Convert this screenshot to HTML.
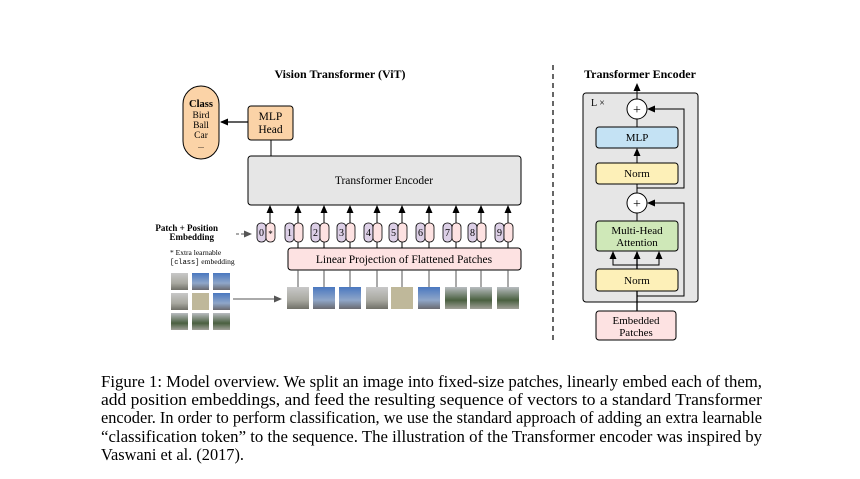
<!DOCTYPE html>
<html><head><meta charset="utf-8"><style>
html,body{margin:0;padding:0;background:#fff;}
svg{display:block;font-family:"Liberation Serif",serif;}
</style></head><body>
<svg width="860" height="479" viewBox="0 0 860 479" xmlns="http://www.w3.org/2000/svg">
<defs>
<marker id="ah" markerWidth="8" markerHeight="8" refX="7" refY="4" orient="auto" markerUnits="userSpaceOnUse"><path d="M0,0.5 L8,4 L0,7.5 z" fill="#000"/></marker>
<marker id="ahg" markerWidth="8" markerHeight="8" refX="7" refY="4" orient="auto" markerUnits="userSpaceOnUse"><path d="M0,0.5 L8,4 L0,7.5 z" fill="#555"/></marker>
<linearGradient id="sky" x1="0" y1="0" x2="0" y2="1"><stop offset="0" stop-color="#4a78c0"/><stop offset="0.6" stop-color="#8fa6c8"/><stop offset="1" stop-color="#6a6a70"/></linearGradient>
<linearGradient id="bld" x1="0" y1="0" x2="0" y2="1"><stop offset="0" stop-color="#c8c8c8"/><stop offset="0.6" stop-color="#a8a8a0"/><stop offset="1" stop-color="#707068"/></linearGradient>
<linearGradient id="grn" x1="0" y1="0" x2="0" y2="1"><stop offset="0" stop-color="#b8bcc0"/><stop offset="0.6" stop-color="#4a6040"/><stop offset="1" stop-color="#a0a098"/></linearGradient>
</defs>

<text x="340" y="78" font-size="12" font-weight="bold" text-anchor="middle">Vision Transformer (ViT)</text>
<text x="640" y="78" font-size="12" font-weight="bold" text-anchor="middle">Transformer Encoder</text>

<line x1="553" y1="65" x2="553" y2="340" stroke="#000" stroke-width="1.2" stroke-dasharray="5,4"/>

<rect x="183" y="86" width="36" height="73" rx="18" fill="#fbd3a7" stroke="#000" stroke-width="1"/>
<text x="201" y="107" font-size="10.5" font-weight="bold" text-anchor="middle">Class</text>
<text x="201" y="118" font-size="9.5" text-anchor="middle">Bird</text>
<text x="201" y="128" font-size="9.5" text-anchor="middle">Ball</text>
<text x="201" y="138" font-size="9.5" text-anchor="middle">Car</text>
<text x="201" y="148" font-size="8" text-anchor="middle">...</text>

<rect x="248" y="106" width="45" height="34" rx="3" fill="#fbd3a7" stroke="#000" stroke-width="1"/>
<text x="270.5" y="120" font-size="11.5" text-anchor="middle">MLP</text>
<text x="270.5" y="133" font-size="11.5" text-anchor="middle">Head</text>
<line x1="248" y1="122" x2="221" y2="122" stroke="#000" stroke-width="1.2" marker-end="url(#ah)"/>
<line x1="271" y1="140" x2="271" y2="156" stroke="#000" stroke-width="1"/>

<rect x="248" y="156" width="273" height="49" rx="3" fill="#e6e6e6" stroke="#000" stroke-width="1"/>
<text x="384" y="184" font-size="11.5" text-anchor="middle">Transformer Encoder</text>

<rect x="288" y="248" width="233" height="22" rx="3" fill="#fde2e2" stroke="#000" stroke-width="1"/>
<text x="404" y="263" font-size="11.5" text-anchor="middle">Linear Projection of Flattened Patches</text>

<text x="218" y="231" font-size="9" font-weight="bold" text-anchor="end">Patch + Position</text>
<text x="214" y="240" font-size="9" font-weight="bold" text-anchor="end">Embedding</text>
<line x1="236" y1="234" x2="251" y2="234" stroke="#555" stroke-width="1" stroke-dasharray="3,2" marker-end="url(#ahg)"/>
<text x="170" y="255" font-size="7.5">* Extra learnable</text>
<text x="170" y="264" font-size="7.5"><tspan font-family="Liberation Mono,monospace" font-size="7">[class]</tspan> embedding</text>

<g stroke="#000" stroke-width="0.8" font-size="10">
<rect x="257" y="223" width="9" height="19" rx="4" fill="#dccfe6"/>
<rect x="266" y="223" width="9" height="19" rx="4" fill="#fde2e2"/>
<text x="261.5" y="236" text-anchor="middle" stroke="none">0</text>
<text x="270.5" y="237" text-anchor="middle" stroke="none" font-size="9">*</text>
</g>
<g stroke="#000" stroke-width="0.8" font-size="10">
<rect x="285" y="223" width="9" height="19" rx="4" fill="#dccfe6"/><rect x="294" y="223" width="9" height="19" rx="4" fill="#fde2e2"/><text x="289.5" y="236" text-anchor="middle" stroke="none">1</text>
<rect x="311" y="223" width="9" height="19" rx="4" fill="#dccfe6"/><rect x="320" y="223" width="9" height="19" rx="4" fill="#fde2e2"/><text x="315.5" y="236" text-anchor="middle" stroke="none">2</text>
<rect x="337" y="223" width="9" height="19" rx="4" fill="#dccfe6"/><rect x="346" y="223" width="9" height="19" rx="4" fill="#fde2e2"/><text x="341.5" y="236" text-anchor="middle" stroke="none">3</text>
<rect x="364" y="223" width="9" height="19" rx="4" fill="#dccfe6"/><rect x="373" y="223" width="9" height="19" rx="4" fill="#fde2e2"/><text x="368.5" y="236" text-anchor="middle" stroke="none">4</text>
<rect x="389" y="223" width="9" height="19" rx="4" fill="#dccfe6"/><rect x="398" y="223" width="9" height="19" rx="4" fill="#fde2e2"/><text x="393.5" y="236" text-anchor="middle" stroke="none">5</text>
<rect x="416" y="223" width="9" height="19" rx="4" fill="#dccfe6"/><rect x="425" y="223" width="9" height="19" rx="4" fill="#fde2e2"/><text x="420.5" y="236" text-anchor="middle" stroke="none">6</text>
<rect x="443" y="223" width="9" height="19" rx="4" fill="#dccfe6"/><rect x="452" y="223" width="9" height="19" rx="4" fill="#fde2e2"/><text x="447.5" y="236" text-anchor="middle" stroke="none">7</text>
<rect x="468" y="223" width="9" height="19" rx="4" fill="#dccfe6"/><rect x="477" y="223" width="9" height="19" rx="4" fill="#fde2e2"/><text x="472.5" y="236" text-anchor="middle" stroke="none">8</text>
<rect x="495" y="223" width="9" height="19" rx="4" fill="#dccfe6"/><rect x="504" y="223" width="9" height="19" rx="4" fill="#fde2e2"/><text x="499.5" y="236" text-anchor="middle" stroke="none">9</text>
</g>

<g stroke="#000" stroke-width="1" marker-end="url(#ah)">
<line x1="270" y1="223" x2="270" y2="206"/>
<line x1="298" y1="223" x2="298" y2="206"/>
<line x1="324" y1="223" x2="324" y2="206"/>
<line x1="350" y1="223" x2="350" y2="206"/>
<line x1="377" y1="223" x2="377" y2="206"/>
<line x1="402" y1="223" x2="402" y2="206"/>
<line x1="429" y1="223" x2="429" y2="206"/>
<line x1="456" y1="223" x2="456" y2="206"/>
<line x1="481" y1="223" x2="481" y2="206"/>
<line x1="508" y1="223" x2="508" y2="206"/>
</g>
<g stroke="#000" stroke-width="1">
<line x1="298" y1="248" x2="298" y2="242"/><line x1="324" y1="248" x2="324" y2="242"/><line x1="350" y1="248" x2="350" y2="242"/><line x1="377" y1="248" x2="377" y2="242"/><line x1="402" y1="248" x2="402" y2="242"/><line x1="429" y1="248" x2="429" y2="242"/><line x1="456" y1="248" x2="456" y2="242"/><line x1="481" y1="248" x2="481" y2="242"/><line x1="508" y1="248" x2="508" y2="242"/>
</g>
<g stroke="#555" stroke-width="1">
<line x1="298" y1="287" x2="298" y2="270"/><line x1="324" y1="287" x2="324" y2="270"/><line x1="350" y1="287" x2="350" y2="270"/><line x1="377" y1="287" x2="377" y2="270"/><line x1="402" y1="287" x2="402" y2="270"/><line x1="429" y1="287" x2="429" y2="270"/><line x1="456" y1="287" x2="456" y2="270"/><line x1="481" y1="287" x2="481" y2="270"/><line x1="508" y1="287" x2="508" y2="270"/>
</g>

<rect x="287" y="287" width="22" height="22" fill="url(#bld)"/>
<rect x="313" y="287" width="22" height="22" fill="url(#sky)"/>
<rect x="339" y="287" width="22" height="22" fill="url(#sky)"/>
<rect x="366" y="287" width="22" height="22" fill="url(#bld)"/>
<rect x="391" y="287" width="22" height="22" fill="#bfb89a"/>
<rect x="418" y="287" width="22" height="22" fill="url(#sky)"/>
<rect x="445" y="287" width="22" height="22" fill="url(#grn)"/>
<rect x="470" y="287" width="22" height="22" fill="url(#grn)"/>
<rect x="497" y="287" width="22" height="22" fill="url(#grn)"/>

<rect x="171" y="273" width="17" height="17" fill="url(#bld)"/>
<rect x="192" y="273" width="17" height="17" fill="url(#sky)"/>
<rect x="213" y="273" width="17" height="17" fill="url(#sky)"/>
<rect x="171" y="293" width="17" height="17" fill="url(#bld)"/>
<rect x="192" y="293" width="17" height="17" fill="#bfb89a"/>
<rect x="213" y="293" width="17" height="17" fill="url(#sky)"/>
<rect x="171" y="313" width="17" height="17" fill="url(#grn)"/>
<rect x="192" y="313" width="17" height="17" fill="url(#grn)"/>
<rect x="213" y="313" width="17" height="17" fill="url(#grn)"/>
<line x1="233" y1="299" x2="281" y2="299" stroke="#555" stroke-width="1" marker-end="url(#ahg)"/>

<rect x="583" y="93" width="115" height="209" rx="3" fill="#e6e6e6" stroke="#000" stroke-width="1"/>
<text x="591" y="106" font-size="10">L ×</text>

<g stroke="#000" stroke-width="1" fill="none">
<polyline points="637,296 684,296 684,203 648,203" marker-end="url(#ah)"/>
<polyline points="637,188 684,188 684,109 648,109" marker-end="url(#ah)"/>
</g>
<g stroke="#000" stroke-width="1.3">
<line x1="637" y1="311" x2="637" y2="291"/>
<line x1="637" y1="269" x2="637" y2="252" marker-end="url(#ah)"/>
<polyline points="613,252 613,265 659,265 659,252" fill="none" stroke-width="1"/>
<line x1="613" y1="265" x2="613" y2="252" stroke-width="1" marker-end="url(#ah)"/>
<line x1="659" y1="265" x2="659" y2="252" stroke-width="1" marker-end="url(#ah)"/>
<line x1="637" y1="221" x2="637" y2="213" stroke-width="1"/>
<line x1="637" y1="193" x2="637" y2="184" stroke-width="1"/>
<line x1="637" y1="163" x2="637" y2="149" stroke-width="1" marker-end="url(#ah)"/>
<line x1="637" y1="127" x2="637" y2="119" stroke-width="1"/>
<line x1="637" y1="99" x2="637" y2="84" stroke-width="1" marker-end="url(#ah)"/>
</g>

<circle cx="637" cy="109" r="10" fill="#fff" stroke="#000" stroke-width="1"/>
<text x="637" y="114" font-size="14" text-anchor="middle">+</text>
<circle cx="637" cy="203" r="10" fill="#fff" stroke="#000" stroke-width="1"/>
<text x="637" y="208" font-size="14" text-anchor="middle">+</text>

<rect x="596" y="127" width="82" height="21" rx="3" fill="#c4e2f4" stroke="#000" stroke-width="1"/>
<text x="637" y="141" font-size="11" text-anchor="middle">MLP</text>
<rect x="596" y="163" width="82" height="21" rx="3" fill="#fdf0b8" stroke="#000" stroke-width="1"/>
<text x="637" y="177" font-size="11" text-anchor="middle">Norm</text>
<rect x="596" y="221" width="82" height="30" rx="3" fill="#cfe8b8" stroke="#000" stroke-width="1"/>
<text x="637" y="234" font-size="11" text-anchor="middle">Multi-Head</text>
<text x="637" y="246" font-size="11" text-anchor="middle">Attention</text>
<rect x="596" y="269" width="82" height="22" rx="3" fill="#fdf0b8" stroke="#000" stroke-width="1"/>
<text x="637" y="284" font-size="11" text-anchor="middle">Norm</text>
<rect x="596" y="311" width="80" height="29" rx="3" fill="#fde2e2" stroke="#000" stroke-width="1"/>
<text x="636" y="324" font-size="11" text-anchor="middle">Embedded</text>
<text x="636" y="336" font-size="11" text-anchor="middle">Patches</text>

<g font-size="16.5">
<text x="101" y="387" textLength="661" lengthAdjust="spacingAndGlyphs">Figure 1: Model overview. We split an image into fixed-size patches, linearly embed each of them,</text>
<text x="101" y="405" textLength="661" lengthAdjust="spacingAndGlyphs">add position embeddings, and feed the resulting sequence of vectors to a standard Transformer</text>
<text x="101" y="423" textLength="661" lengthAdjust="spacingAndGlyphs">encoder. In order to perform classification, we use the standard approach of adding an extra learnable</text>
<text x="101" y="442" textLength="661" lengthAdjust="spacingAndGlyphs">“classification token” to the sequence. The illustration of the Transformer encoder was inspired by</text>
<text x="101" y="460" textLength="143" lengthAdjust="spacingAndGlyphs">Vaswani et al. (2017).</text>
</g>
</svg>
</body></html>
